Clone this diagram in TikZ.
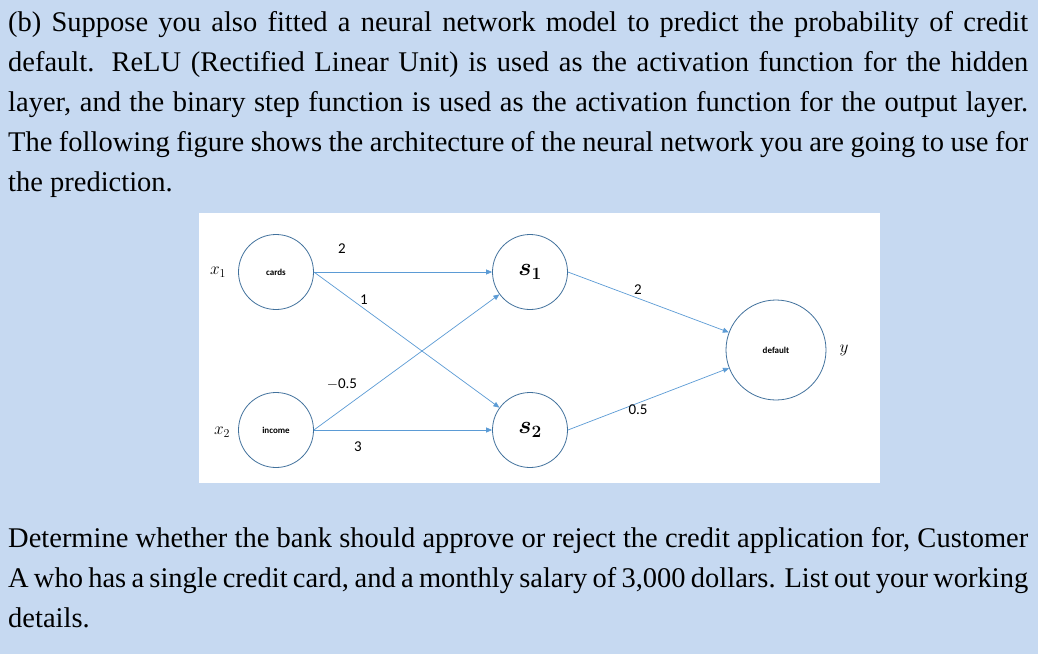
\documentclass[tikz,border=0pt]{standalone}
\usepackage{amsmath,bm}
\usepackage{fontspec}
\setmainfont{Liberation Serif}
\newfontfamily\sansf{Carlito}
\usetikzlibrary{arrows.meta}
\definecolor{bg}{HTML}{C6D9F1}
\definecolor{ln}{HTML}{5B9BD5}
\definecolor{cir}{HTML}{41719C}
\begin{document}
\begin{tikzpicture}[x=1pt,y=-1pt,
  neuron/.style={draw=cir,line width=0.8pt,circle,minimum size=#1,inner sep=0pt},
  conn/.style={draw=ln,line width=0.7pt,-{Triangle[length=6pt,width=5pt]}},
  w/.style={font=\sansf\fontsize{15}{15}\selectfont},
  small/.style={font=\sansf\bfseries\fontsize{9}{9}\selectfont},
  para/.style={anchor=north west,inner sep=0pt,text width=1020pt,align=justify,font=\fontsize{28.5}{40}\selectfont}]
\fill[bg] (0,0) rectangle (1038,654);
\useasboundingbox (0,0) rectangle (1038,654);
\fill[white] (199,213) rectangle (880,483);
\node[para] (top) at (8,11)
{(b) Suppose you also fitted a neural network model to predict the probability of credit default. ReLU (Rectified Linear Unit) is used as the activation function for the hidden layer, and the binary step function is used as the activation function for the output layer. The following figure shows the architecture of the neural network you are going to use for the prediction.};
\node[para] (bot) at (8,527)
{Determine whether the bank should approve or reject the credit application for, Customer A who has a single credit card, and a monthly salary of 3,000 dollars. List out your working details.};
\node[neuron=75pt,small] (c) at (276,272) {cards};
\node[neuron=75pt,small] (i) at (276,430) {income};
\node[neuron=75pt] (s1) at (530,272) {\fontsize{25}{25}\selectfont$\bm{s_1}$};
\node[neuron=75pt] (s2) at (530,430) {\fontsize{25}{25}\selectfont$\bm{s_2}$};
\node[neuron=100pt,small] (d) at (776,350) {default};
\node[font=\fontsize{18}{18}\selectfont] (lx1) at (218,272) {$x_1$};
\node[font=\fontsize{18}{18}\selectfont] (lx2) at (222,432) {$x_2$};
\node[font=\fontsize{18}{18}\selectfont] (ly) at (844,350) {$y$};
\draw[conn] (c.east) -- (s1.west);
\draw[conn] (c.east) -- (s2);
\draw[conn] (i.east) -- (s1);
\draw[conn] (i.east) -- (s2.west);
\draw[conn] (s1.east) -- (d);
\draw[conn] (s2.east) -- (d);
\node[w] (w1) at (342,249) {2};
\node[w] (w2) at (364,300) {1};
\node[w] (w3) at (342,384) {$-$0.5};
\node[w] (w4) at (358,447) {3};
\node[w] (w5) at (638,290) {2};
\node[w] (w6) at (638,410) {0.5};
\end{tikzpicture}
\end{document}
